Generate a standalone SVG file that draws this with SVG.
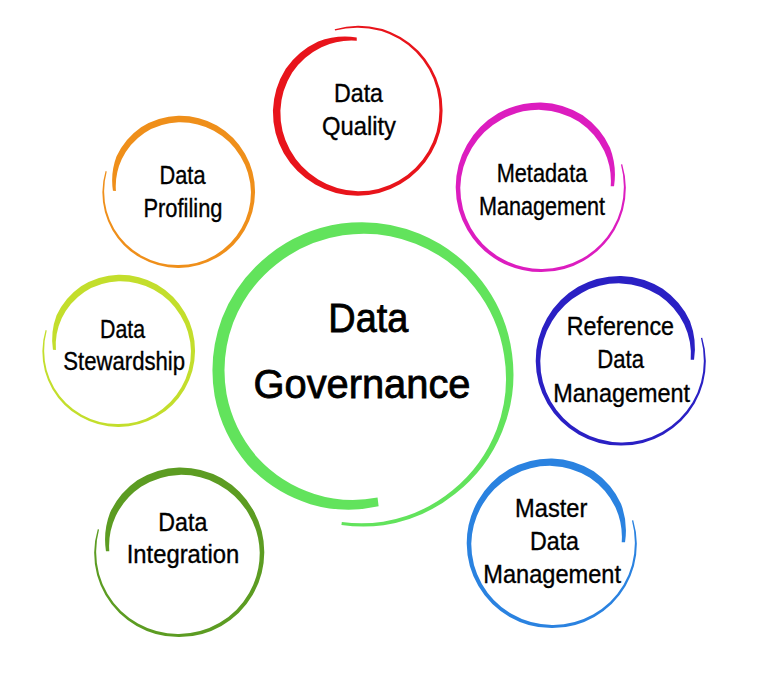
<svg xmlns="http://www.w3.org/2000/svg" width="768" height="693" viewBox="0 0 768 693">
<style>
text { font-family: "Liberation Sans", Arial, sans-serif; fill: #000; stroke: #000; text-anchor: middle; }
.s { font-size: 25px; stroke-width: 0.35px; }
.m { font-size: 40px; stroke-width: 0.8px; }
</style>
<defs>
<path id="ringA" d="M -87.99 -1.54 A 92 92 0 0 1 -83.14 -48 A 98 98 0 0 1 -50.25 -87.04 A 101.5 101.5 0 0 1 0 -102.5 A 103 103 0 0 1 51.63 -89.42 A 103 103 0 0 1 89.2 -51.5 A 103 103 0 0 1 102.75 0 A 102.6 102.6 0 0 1 88.68 51.2 A 102.2 102.2 0 0 1 51.05 88.42 A 102 102 0 0 1 0 101.9 A 102 102 0 0 1 -51.05 88.42 A 102.2 102.2 0 0 1 -88.68 51.2 A 102.3 102.3 0 0 1 -102.2 0 A 102 102 0 0 1 -97.86 -28.06 L -96.32 -27.62 A 100 100 0 0 0 -99.8 0 A 99.7 99.7 0 0 0 -86.26 49.8 A 99.2 99.2 0 0 0 -49.45 85.65 A 98.5 98.5 0 0 0 0 98.1 A 98 98 0 0 0 48.95 84.78 A 97.7 97.7 0 0 0 84.52 48.8 A 97.4 97.4 0 0 0 97.25 0 A 96.6 96.6 0 0 0 83.14 -48 A 95.4 95.4 0 0 0 47.38 -82.06 A 94 94 0 0 0 0 -93.5 A 92.5 92.5 0 0 0 -45.75 -79.24 A 89.8 89.8 0 0 0 -76.21 -44 A 86 86 0 0 0 -83.99 -1.47 Z"/>
<path id="ringB" d="M -89.99 -1.57 A 92.5 92.5 0 0 1 -82.06 -47.38 A 97 97 0 0 1 -49.55 -85.82 A 100.4 100.4 0 0 1 0 -101.6 A 102.4 102.4 0 0 1 51.55 -89.29 A 103.4 103.4 0 0 1 89.72 -51.8 A 103.8 103.8 0 0 1 104 0 A 103.8 103.8 0 0 1 89.76 51.83 A 103.4 103.4 0 0 1 51.63 89.42 A 103 103 0 0 1 0 102.75 A 102.6 102.6 0 0 1 -51.25 88.77 A 102.5 102.5 0 0 1 -88.77 51.25 A 102.8 102.8 0 0 1 -103.2 0 A 103.1 103.1 0 0 1 -99.01 -28.39 L -97.09 -27.84 A 100.9 100.9 0 0 0 -100.8 0 A 100.1 100.1 0 0 0 -86.17 49.75 A 99 99 0 0 0 -49.25 85.3 A 97.9 97.9 0 0 0 0 97.25 A 97 97 0 0 0 48.38 83.79 A 96.5 96.5 0 0 0 83.44 48.18 A 96.2 96.2 0 0 0 96 0 A 95.7 95.7 0 0 0 82.62 -47.7 A 95.1 95.1 0 0 0 47.45 -82.19 A 94.1 94.1 0 0 0 0 -93.4 A 92.1 92.1 0 0 0 -45.45 -78.72 A 89 89 0 0 0 -75.56 -43.63 A 85.6 85.6 0 0 0 -83.99 -1.47 Z"/>
</defs>
<rect width="768" height="693" fill="#ffffff"/>

<g id="data-governance">
<use href="#ringB" transform="translate(362.5,375) rotate(-98) scale(1.47)" fill="#62e35c"/>
<text class="m" x="368.3" y="331.7" textLength="80" lengthAdjust="spacingAndGlyphs">Data</text>
<text class="m" x="362" y="398.3" textLength="217" lengthAdjust="spacingAndGlyphs">Governance</text>
</g>

<g id="data-quality">
<use href="#ringA" transform="translate(358,110.5) rotate(-90) scale(-0.83,0.83)" fill="#e8141b"/>
<text class="s" x="358.5" y="102" textLength="49" lengthAdjust="spacingAndGlyphs">Data</text>
<text class="s" x="359" y="135" textLength="74" lengthAdjust="spacingAndGlyphs">Quality</text>
</g>

<g id="data-profiling">
<use href="#ringA" transform="translate(178.5,192) scale(0.745)" fill="#ef8f1a"/>
<text class="s" x="182.5" y="184" textLength="46" lengthAdjust="spacingAndGlyphs">Data</text>
<text class="s" x="183" y="217.3" textLength="79" lengthAdjust="spacingAndGlyphs">Profiling</text>
</g>

<g id="data-stewardship">
<use href="#ringA" transform="translate(118.5,351) scale(0.745)" fill="#c3de2c"/>
<text class="s" x="122.5" y="337.7" textLength="45" lengthAdjust="spacingAndGlyphs">Data</text>
<text class="s" x="124.2" y="370" textLength="121.7" lengthAdjust="spacingAndGlyphs">Stewardship</text>
</g>

<g id="data-integration">
<use href="#ringA" transform="translate(179,552.5) scale(0.83)" fill="#5c9c22"/>
<text class="s" x="182.8" y="531" textLength="49" lengthAdjust="spacingAndGlyphs">Data</text>
<text class="s" x="183" y="563.3" textLength="112.6" lengthAdjust="spacingAndGlyphs">Integration</text>
</g>

<g id="metadata-management">
<use href="#ringA" transform="translate(541,187.5) scale(-0.83,0.83)" fill="#dc1dbf"/>
<text class="s" x="542" y="181.7" textLength="90.6" lengthAdjust="spacingAndGlyphs">Metadata</text>
<text class="s" x="542" y="215" textLength="126" lengthAdjust="spacingAndGlyphs">Management</text>
</g>

<g id="reference-data-management">
<use href="#ringA" transform="translate(621,361) scale(-0.83,0.83)" fill="#2a20c4"/>
<text class="s" x="620.4" y="335" textLength="107.3" lengthAdjust="spacingAndGlyphs">Reference</text>
<text class="s" x="620.7" y="368.3" textLength="46.7" lengthAdjust="spacingAndGlyphs">Data</text>
<text class="s" x="621.7" y="401.7" textLength="136.7" lengthAdjust="spacingAndGlyphs">Management</text>
</g>

<g id="master-data-management">
<use href="#ringA" transform="translate(552,543.5) scale(-0.83,0.83)" fill="#2a82e0"/>
<text class="s" x="551.2" y="516.7" textLength="72.3" lengthAdjust="spacingAndGlyphs">Master</text>
<text class="s" x="554.5" y="550" textLength="49" lengthAdjust="spacingAndGlyphs">Data</text>
<text class="s" x="552.2" y="583.3" textLength="137.7" lengthAdjust="spacingAndGlyphs">Management</text>
</g>
</svg>
